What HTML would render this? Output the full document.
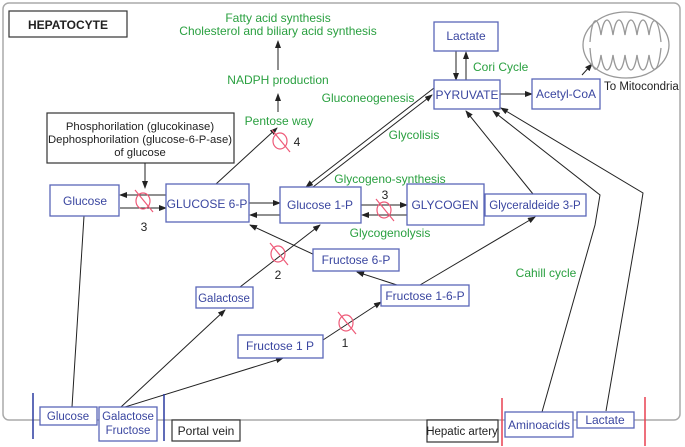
<!DOCTYPE html>
<html><head><meta charset="utf-8"><style>
body{margin:0;background:#fff}
svg{display:block;font-family:"Liberation Sans",sans-serif}
.b{fill:#fff;stroke:#5a66b8;stroke-width:1.3}
.k{fill:#fff;stroke:#333;stroke-width:1.2}
.bt{fill:#3a46a0;font-size:12px;text-anchor:middle}
.gt{fill:#2aa040;font-size:12px;text-anchor:middle}
.kt{fill:#222;font-size:12px;text-anchor:middle}
.l{stroke:#222;stroke-width:1;fill:none}
.a{stroke:#222;stroke-width:1;fill:none;marker-end:url(#ar)}
.r{stroke:#ee5a78;stroke-width:1.2;fill:none}
</style></head><body>
<svg width="685" height="447" viewBox="0 0 685 447">
<defs><marker id="ar" markerWidth="8" markerHeight="6" refX="7" refY="3" orient="auto" markerUnits="userSpaceOnUse"><path d="M0,0 L8,3 L0,6 z" fill="#222"/></marker></defs>
<rect x="3" y="3" width="677" height="417" rx="6" fill="none" stroke="#aaa" stroke-width="1.5"/>
<rect x="9" y="11" width="118" height="26" class="k"/>
<text x="68" y="29" class="kt" style="font-weight:bold;font-size:12px">HEPATOCYTE</text>
<text x="278" y="22" class="gt">Fatty acid synthesis</text>
<text x="278" y="35" class="gt">Cholesterol and biliary acid synthesis</text>
<line x1="278" y1="70" x2="278" y2="41" class="a"/>
<text x="278" y="84" class="gt">NADPH production</text>
<line x1="278" y1="112" x2="278" y2="94" class="a"/>
<text x="279" y="125" class="gt">Pentose way</text>
<rect x="47" y="113" width="187" height="50" class="k"/>
<text x="140" y="130" class="kt" style="font-size:11.3px">Phosphorilation (glucokinase)</text>
<text x="140" y="143" class="kt" style="font-size:11.3px">Dephosphorilation (glucose-6-P-ase)</text>
<text x="140" y="156" class="kt" style="font-size:11.3px">of glucose</text>
<line x1="145" y1="163" x2="145" y2="188" class="a"/>
<line x1="216" y1="184" x2="277" y2="128" class="a"/>
<line x1="166" y1="195" x2="120" y2="195" class="a"/>
<line x1="120" y1="208" x2="166" y2="208" class="a"/>
<line x1="249" y1="203" x2="280" y2="203" class="a"/>
<line x1="280" y1="215" x2="250" y2="215" class="a"/>
<line x1="361" y1="205" x2="407" y2="205" class="a"/>
<line x1="407" y1="215" x2="362" y2="215" class="a"/>
<line x1="434" y1="88" x2="306" y2="187" class="a"/>
<line x1="313" y1="187" x2="432" y2="95" class="a"/>
<line x1="456" y1="51" x2="456" y2="80" class="a"/>
<line x1="466" y1="80" x2="466" y2="52" class="a"/>
<line x1="500" y1="94" x2="532" y2="94" class="a"/>
<line x1="582" y1="75" x2="592" y2="64" class="a"/>
<line x1="330" y1="262" x2="250" y2="225" class="a"/>
<line x1="397" y1="285" x2="357" y2="272" class="a"/>
<line x1="420" y1="285" x2="535" y2="217" class="a"/>
<line x1="240" y1="287" x2="320" y2="225" class="a"/>
<line x1="323" y1="340" x2="381" y2="302" class="a"/>
<line x1="533" y1="194" x2="466" y2="111" class="a"/>
<polyline points="542,412 595,225 600,195 493,111" class="a"/>
<polyline points="606,411 638,225 643,193 501,108" class="a"/>
<line x1="72" y1="407" x2="84" y2="216" class="l"/>
<line x1="121" y1="407" x2="225" y2="310" class="a"/>
<line x1="125" y1="407" x2="283" y2="358" class="a"/>
<rect x="50" y="185" width="69" height="31" class="b"/><text x="85" y="205" class="bt">Glucose</text>
<rect x="166" y="184" width="83" height="38" class="b"/><text x="207" y="208" class="bt">GLUCOSE 6-P</text>
<rect x="280" y="187" width="81" height="36" class="b"/><text x="320" y="209" class="bt">Glucose 1-P</text>
<rect x="407" y="184" width="77" height="41" class="b"/><text x="445" y="209" class="bt">GLYCOGEN</text>
<rect x="485" y="194" width="101" height="22" class="b"/><text x="535" y="209" class="bt" style="font-size:11.5px">Glyceraldeide 3-P</text>
<rect x="313" y="249" width="86" height="22" class="b"/><text x="356" y="264" class="bt">Fructose 6-P</text>
<rect x="381" y="285" width="88" height="21" class="b"/><text x="425" y="300" class="bt">Fructose 1-6-P</text>
<rect x="196" y="287" width="57" height="21" class="b"/><text x="224" y="302" class="bt" style="font-size:11.5px">Galactose</text>
<rect x="238" y="335" width="85" height="23" class="b"/><text x="280" y="350" class="bt">Fructose 1 P</text>
<rect x="434" y="22" width="64" height="29" class="b"/><text x="466" y="40" class="bt">Lactate</text>
<rect x="434" y="80" width="66" height="29" class="b"/><text x="467" y="99" class="bt">PYRUVATE</text>
<rect x="532" y="79" width="68" height="30" class="b"/><text x="566" y="98" class="bt">Acetyl-CoA</text>
<ellipse cx="626" cy="45" rx="43" ry="33" fill="none" stroke="#999" stroke-width="1.3"/>
<path d="M590,42 C592,15 598,15 601,35 C604,15 610,15 613,35 C616,15 622,15 625,35 C628,15 634,15 637,35 C640,15 646,15 649,35 C652,15 658,15 661,42 M590,48 C592,75 598,75 601,55 C604,75 610,75 613,55 C616,75 622,75 625,55 C628,75 634,75 637,55 C640,75 646,75 649,55 C652,75 658,75 661,48" fill="none" stroke="#999" stroke-width="1.3"/>
<text x="604" y="90" style="font-size:11.5px;fill:#222">To Mitocondria</text>
<text x="473" y="71" class="gt" style="text-anchor:start">Cori Cycle</text>
<text x="368" y="102" class="gt">Gluconeogenesis</text>
<text x="414" y="139" class="gt">Glycolisis</text>
<text x="390" y="183" class="gt">Glycogeno-synthesis</text>
<text x="390" y="237" class="gt">Glycogenolysis</text>
<text x="546" y="277" class="gt">Cahill cycle</text>
<g class="r"><ellipse cx="280" cy="141" rx="7" ry="8"/><line x1="272" y1="130" x2="290" y2="152"/></g>
<text x="297" y="146" class="kt">4</text>
<g class="r"><ellipse cx="143" cy="201" rx="7" ry="8"/><line x1="135" y1="190" x2="153" y2="212"/></g>
<text x="144" y="231" class="kt">3</text>
<g class="r"><ellipse cx="384" cy="210" rx="7" ry="8"/><line x1="376" y1="199" x2="394" y2="221"/></g>
<text x="385" y="199" class="kt">3</text>
<g class="r"><ellipse cx="278" cy="254" rx="7" ry="8"/><line x1="270" y1="243" x2="288" y2="265"/></g>
<text x="278" y="279" class="kt">2</text>
<g class="r"><ellipse cx="346" cy="323" rx="7" ry="8"/><line x1="338" y1="312" x2="356" y2="334"/></g>
<text x="345" y="347" class="kt">1</text>
<line x1="33" y1="393" x2="33" y2="439" stroke="#2a3aa0" stroke-width="1.5"/>
<line x1="164" y1="394" x2="164" y2="441" stroke="#2a3aa0" stroke-width="1.5"/>
<rect x="40" y="407" width="57" height="18" class="b"/><text x="68" y="420" class="bt" style="font-size:11.5px">Glucose</text>
<rect x="99" y="407" width="58" height="34" class="b"/><text x="128" y="420" class="bt" style="font-size:11.5px">Galactose</text><text x="128" y="434" class="bt" style="font-size:11.5px">Fructose</text>
<rect x="172" y="420" width="68" height="21" class="k"/><text x="206" y="435" class="kt">Portal vein</text>
<rect x="427" y="420" width="71" height="22" class="k"/><text x="462" y="435" class="kt" style="font-size:11.5px">Hepatic artery</text>
<line x1="502" y1="398" x2="502" y2="446" stroke="#e84050" stroke-width="1.5"/>
<line x1="645" y1="397" x2="645" y2="446" stroke="#e84050" stroke-width="1.5"/>
<rect x="505" y="412" width="68" height="25" class="b"/><text x="539" y="429" class="bt">Aminoacids</text>
<rect x="577" y="412" width="57" height="16" class="b"/><text x="605" y="424" class="bt">Lactate</text>
</svg>
</body></html>
